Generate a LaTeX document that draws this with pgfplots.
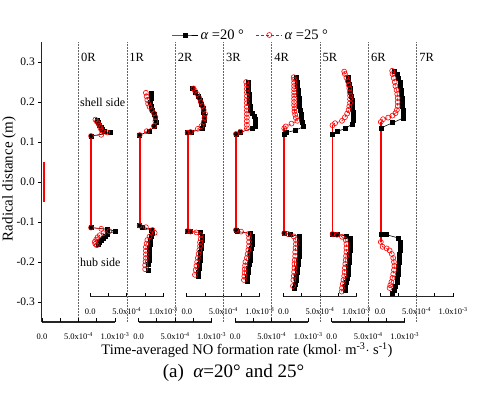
\documentclass[border=0pt]{standalone}
\usepackage{fontspec}
\setmainfont{Liberation Serif}
\usepackage{pgfplots}
\pgfplotsset{compat=1.18}
\usetikzlibrary{calc}
\pgfplotsset{
  prof/.style={scale only axis, width=73pt, xmin=0, xmax=10, ymax=0.35, clip=false,
    anchor=north west,
    axis x line*=bottom,
    xtick={0,2.5,5,7.5,10},
    xticklabels={0.0,,5.0x10\textsuperscript{-4},,1.0x10\textsuperscript{-3}},
    xtick align=inside, major tick length=4pt,
    tick style={black, line width=0.8pt},
    axis line style={line width=1pt, black!85},
    xticklabel style={font=\fontsize{8.5}{9}\selectfont, inner sep=1pt, text height=7pt, text depth=1pt, yshift=-9pt},
  },
  noy/.style={axis y line=none},
  low/.style={ymin=-0.35, height=280pt},
  up/.style={ymin=-0.2875, height=255pt},
  s20/.style={black, solid, mark=square*, mark size=2pt, line width=0.6pt},
  s25/.style={red, densely dashed, mark=o, mark size=2.5pt, mark options={solid}, line width=0.6pt},
  base/.style={red, solid, line width=1.8pt, forget plot},
}
\newcommand{\gridline}[1]{%
  \draw[gray!80!black, dash pattern=on 1.5pt off 1.5pt, line width=0.5pt] (axis cs:5,-0.35) -- (axis cs:5,0.35);
  \node[anchor=west, inner sep=0pt, xshift=2.5pt, font=\fontsize{12.5}{13}\selectfont] at (axis cs:5,0.3125) {#1};}
\newcommand{\lowline}[1]{%
  \draw[line width=1.2pt, black!85] (#1.south west) -- (#1.south east);
  \draw[black, line width=0.8pt] (#1.south west) -- ++(0pt,4pt);
  \draw[black, line width=0.8pt] ($(#1.south west)!0.25!(#1.south east)$) -- ++(0pt,4pt);
  \draw[black, line width=0.8pt] ($(#1.south west)!0.5!(#1.south east)$) -- ++(0pt,4pt);
  \draw[black, line width=0.8pt] ($(#1.south west)!0.75!(#1.south east)$) -- ++(0pt,4pt);
  \draw[black, line width=0.8pt] (#1.south east) -- ++(0pt,4pt);}
\begin{document}
\begin{tikzpicture}
\path[use as bounding box] (-42pt,42pt) rectangle (438pt,-356pt);
% axis 0: y axis, inlet profile
\begin{axis}[prof, low, at={(0pt,0pt)}, name=a0,
  axis y line*=left, ytick={-0.3,-0.2,-0.1,0,0.1,0.2,0.3},
  yticklabels={-0.3,-0.2,-0.1,0.0,0.1,0.2,0.3},
  ytick align=outside,
  yticklabel style={font=\fontsize{11.5}{12}\selectfont, inner sep=1pt, xshift=-2pt},
  legend style={at={(2.863,1.025)}, anchor=center, draw=none, fill=none,
    font=\fontsize{14.5}{15}\selectfont, legend columns=2,
    /tikz/every even column/.append style={column sep=10pt}},
  legend image code/.code={\draw[mark repeat=2,mark phase=2] plot coordinates {(0pt,0pt) (13pt,0pt) (26pt,0pt)};},
]
\addlegendimage{s20}\addlegendentry{{\itshape α} =20 °}
\addlegendimage{s25}\addlegendentry{{\itshape α} =25 °}
\addplot[base, line width=2.2pt] coordinates {(0.25,-0.05) (0.25,0.05)};
\gridline{0R}
\node[anchor=west, inner sep=0pt, font=\fontsize{12}{13}\selectfont] at (axis cs:5.2,0.2) {shell side};
\node[anchor=west, inner sep=0pt, font=\fontsize{12}{13}\selectfont] at (axis cs:5.2,-0.2) {hub side};
\end{axis}
% axis 1: 0R profile
\begin{axis}[prof, noy, up, at={(48.3pt,0pt)}]
\addplot[s20] coordinates {(1.1,-0.155)(1.3,-0.15)(1.5,-0.145)(1.8,-0.14)(2.0,-0.135)(2.3,-0.13)(3.4,-0.123)(2.3,-0.118)(0.1,-0.114)};
\addplot[s20] coordinates {(0.1,0.115)(2.8,0.123)(1.9,0.127)(1.7,0.132)(1.5,0.137)(1.3,0.142)(1.1,0.148)(0.9,0.153)};
\addplot[base] coordinates {(0.1,-0.114)(0.1,0.115)};
\addplot[s25] coordinates {(0.9,-0.158)(0.7,-0.155)(0.6,-0.150)(0.8,-0.144)(1.0,-0.138)(1.3,-0.133)(1.8,-0.128)(2.6,-0.123)(1.5,-0.117)(0.1,-0.114)};
\addplot[s25] coordinates {(0.1,0.115)(1.5,0.118)(2.3,0.124)(1.6,0.128)(1.4,0.134)(1.3,0.140)(1.1,0.146)(0.9,0.151)(0.7,0.156)};
\gridline{1R}
\end{axis}
% axis 2: 1R profile
\begin{axis}[prof, noy, low, at={(96.6pt,0pt)}, name=a2]
\addplot[s20] coordinates {(1.3,-0.222)(1.35,-0.205)(1.4,-0.195)(1.45,-0.185)(1.5,-0.175)(1.5,-0.165)(1.55,-0.155)(1.6,-0.146)(1.7,-0.137)(1.9,-0.128)(1.8,-0.12)(0.5,-0.113)(0.15,-0.109)};
\addplot[s20] coordinates {(0.15,0.1175)(1.5,0.127)(2.2,0.14)(2.4,0.15)(2.3,0.16)(2.1,0.17)(1.9,0.18)(1.7,0.19)(1.6,0.2)(1.7,0.21)(1.8,0.222)};
\addplot[base] coordinates {(0.15,-0.109)(0.15,0.1175)};
\addplot[s25] coordinates {(0.9,-0.218)(0.9,-0.208)(0.95,-0.199)(1.0,-0.19)(1.0,-0.181)(1.0,-0.172)(1.0,-0.163)(1.1,-0.154)(1.2,-0.145)(1.5,-0.136)(2.2,-0.127)(1.9,-0.12)(1.0,-0.113)(0.15,-0.109)};
\addplot[s25] coordinates {(0.15,0.1175)(1.1,0.127)(2.1,0.14)(2.3,0.152)(2.3,0.162)(2.1,0.172)(1.8,0.18)(1.5,0.188)(1.3,0.196)(1.2,0.205)(1.1,0.214)(1.0,0.223)};
\gridline{2R}
\end{axis}
% axis 3: 2R profile
\begin{axis}[prof, noy, up, at={(144.9pt,0pt)}]
\addplot[s20] coordinates {(1.5,-0.235)(1.6,-0.225)(1.65,-0.215)(1.7,-0.205)(1.8,-0.195)(1.85,-0.185)(1.9,-0.175)(2.0,-0.165)(2.0,-0.155)(2.1,-0.145)(2.1,-0.135)(1.9,-0.126)(0.5,-0.124)(0.1,-0.1225)};
\addplot[s20] coordinates {(0.1,0.123)(0.6,0.125)(2.1,0.133)(2.3,0.145)(2.4,0.155)(2.4,0.165)(2.3,0.175)(2.2,0.185)(2.0,0.195)(1.8,0.205)(1.5,0.215)(1.2,0.225)(0.7,0.235)};
\addplot[base] coordinates {(0.1,-0.1225)(0.1,0.123)};
\addplot[s25] coordinates {(1.1,-0.232)(1.2,-0.22)(1.3,-0.21)(1.4,-0.2)(1.5,-0.19)(1.6,-0.18)(1.7,-0.17)(1.8,-0.16)(1.8,-0.151)(1.9,-0.142)(1.9,-0.133)(1.3,-0.126)(0.5,-0.124)(0.1,-0.1225)};
\addplot[s25] coordinates {(0.1,0.123)(0.5,0.125)(1.5,0.133)(2.0,0.14)(2.3,0.15)(2.4,0.16)(2.5,0.17)(2.3,0.18)(2.1,0.19)(1.9,0.2)(1.7,0.21)(1.4,0.22)(1.1,0.228)(0.9,0.234)};
\gridline{3R}
\end{axis}
% axis 4: 3R profile
\begin{axis}[prof, noy, low, at={(193.2pt,0pt)}, name=a4]
\addplot[s20] coordinates {(1.6,-0.248)(1.7,-0.235)(1.8,-0.225)(1.8,-0.215)(1.9,-0.205)(2.0,-0.195)(2.0,-0.185)(2.1,-0.175)(2.2,-0.165)(2.3,-0.155)(2.3,-0.145)(2.4,-0.135)(2.0,-0.128)(0.3,-0.124)(0.1,-0.12)};
\addplot[s20] coordinates {(0.1,0.12)(0.7,0.124)(2.3,0.134)(2.7,0.14)(2.8,0.148)(2.7,0.156)(2.6,0.164)(2.3,0.172)(2.1,0.18)(2.0,0.19)(1.9,0.2)(1.9,0.21)(1.9,0.22)(1.85,0.23)(1.8,0.24)(1.8,0.248)};
\addplot[base] coordinates {(0.1,-0.12)(0.1,0.12)};
\addplot[s25] coordinates {(1.2,-0.245)(1.25,-0.236)(1.3,-0.227)(1.3,-0.218)(1.35,-0.209)(1.4,-0.2)(1.6,-0.19)(1.7,-0.18)(1.8,-0.17)(1.9,-0.16)(1.9,-0.15)(1.9,-0.14)(1.8,-0.13)(0.8,-0.124)(0.1,-0.12)};
\addplot[s25] coordinates {(0.1,0.12)(0.7,0.126)(1.6,0.134)(1.6,0.143)(1.6,0.152)(1.6,0.161)(1.6,0.17)(1.6,0.179)(1.6,0.188)(1.6,0.197)(1.6,0.206)(1.6,0.215)(1.6,0.224)(1.6,0.233)(1.6,0.242)(1.5,0.25)};
\gridline{4R}
\end{axis}
% axis 5: 4R profile
\begin{axis}[prof, noy, up, at={(241.5pt,0pt)}]
\addplot[s20] coordinates {(1.5,-0.266)(1.6,-0.256)(1.7,-0.246)(1.8,-0.236)(1.9,-0.226)(1.95,-0.216)(2.0,-0.206)(2.05,-0.196)(2.1,-0.186)(2.1,-0.176)(2.15,-0.166)(2.2,-0.156)(2.2,-0.146)(2.1,-0.136)(0.9,-0.131)(0.1,-0.128)};
\addplot[s20] coordinates {(0.1,0.12)(0.45,0.124)(1.6,0.129)(2.7,0.138)(2.6,0.148)(2.5,0.158)(2.4,0.168)(2.3,0.178)(2.2,0.188)(2.1,0.198)(2.1,0.208)(2.0,0.218)(2.0,0.228)(1.9,0.238)(1.9,0.248)(1.8,0.262)};
\addplot[base] coordinates {(0.1,-0.128)(0.1,0.134)};
\addplot[s25] coordinates {(1.3,-0.26)(1.35,-0.245)(1.4,-0.235)(1.45,-0.225)(1.5,-0.215)(1.5,-0.205)(1.55,-0.195)(1.6,-0.185)(1.6,-0.175)(1.65,-0.165)(1.7,-0.155)(1.7,-0.145)(1.4,-0.136)(0.6,-0.13)(0.1,-0.128)};
\addplot[s25] coordinates {(0.1,0.134)(0.3,0.139)(1.1,0.146)(1.9,0.153)(1.7,0.16)(1.6,0.168)(1.5,0.176)(1.5,0.184)(1.45,0.192)(1.45,0.2)(1.45,0.208)(1.45,0.216)(1.45,0.224)(1.45,0.232)(1.45,0.24)(1.45,0.248)(1.45,0.256)(1.4,0.262)};
\gridline{5R}
\end{axis}
% axis 6: 5R profile
\begin{axis}[prof, noy, low, at={(289.8pt,0pt)}, name=a6]
\addplot[s20] coordinates {(1.8,-0.27)(1.9,-0.26)(2.0,-0.25)(2.1,-0.24)(2.2,-0.23)(2.3,-0.22)(2.3,-0.21)(2.35,-0.2)(2.4,-0.19)(2.45,-0.18)(2.5,-0.17)(2.5,-0.16)(2.5,-0.15)(2.5,-0.14)(2.0,-0.135)(0.7,-0.131)(0.1,-0.13)};
\addplot[s20] coordinates {(0.1,0.12)(0.8,0.127)(1.9,0.134)(2.8,0.145)(2.9,0.155)(2.9,0.165)(2.9,0.175)(2.85,0.185)(2.8,0.195)(2.75,0.205)(2.7,0.215)(2.6,0.225)(2.5,0.235)(2.4,0.245)(2.3,0.255)(2.2,0.262)};
\addplot[base] coordinates {(0.1,-0.13)(0.1,0.142)};
\addplot[s25] coordinates {(1.35,-0.274)(1.4,-0.265)(1.5,-0.255)(1.6,-0.245)(1.7,-0.235)(1.75,-0.225)(1.8,-0.215)(1.85,-0.205)(1.9,-0.195)(1.95,-0.185)(2.0,-0.175)(2.0,-0.165)(2.0,-0.155)(1.9,-0.145)(1.4,-0.137)(0.7,-0.132)(0.1,-0.13)};
\addplot[s25] coordinates {(0.1,0.142)(0.45,0.147)(1.4,0.153)(1.8,0.162)(2.1,0.171)(2.3,0.18)(2.4,0.189)(2.5,0.198)(2.5,0.207)(2.5,0.216)(2.45,0.225)(2.4,0.234)(2.3,0.243)(2.2,0.252)(2.0,0.261)(1.8,0.27)(1.7,0.276)};
\gridline{6R}
\end{axis}
% axis 7: 6R profile
\begin{axis}[prof, noy, up, at={(338.1pt,0pt)}]
\addplot[s20] coordinates {(1.7,-0.278)(1.9,-0.27)(2.1,-0.26)(2.3,-0.25)(2.4,-0.24)(2.45,-0.23)(2.5,-0.22)(2.55,-0.21)(2.6,-0.2)(2.6,-0.19)(2.65,-0.18)(2.7,-0.17)(2.7,-0.16)(2.7,-0.15)(2.5,-0.14)(0.9,-0.132)(0.1,-0.13)};
\addplot[s20] coordinates {(0.1,0.135)(1.7,0.148)(3.2,0.16)(3.2,0.17)(3.15,0.18)(3.1,0.19)(3.05,0.2)(3.0,0.21)(2.95,0.22)(2.9,0.23)(2.8,0.24)(2.7,0.25)(2.5,0.26)(2.3,0.27)(2.0,0.276)};
\addplot[base] coordinates {(0.1,-0.15)(0.1,0.15)};
\addplot[s25] coordinates {(1.3,-0.265)(1.4,-0.258)(1.55,-0.25)(1.7,-0.24)(1.8,-0.23)(1.9,-0.22)(1.95,-0.21)(1.9,-0.2)(1.8,-0.19)(1.6,-0.18)(1.3,-0.171)(0.9,-0.166)(0.35,-0.162)(0.1,-0.15)};
\addplot[s25] coordinates {(0.1,0.15)(0.4,0.157)(1.1,0.161)(1.7,0.166)(2.1,0.172)(2.3,0.18)(2.4,0.19)(2.4,0.2)(2.4,0.21)(2.35,0.22)(2.25,0.23)(2.1,0.24)(2.0,0.25)(1.85,0.26)(1.7,0.27)(1.65,0.278)};
\gridline{7R}
\end{axis}
\lowline{a0}
\lowline{a2}
\lowline{a4}
\lowline{a6}
\node[rotate=90, font=\fontsize{15}{16}\selectfont] at (-33pt,-137pt) {Radical distance (m)};
\node[font=\fontsize{14.5}{15}\selectfont] at (205pt,-308pt) {Time-averaged NO formation rate (kmol$\cdot$ m\textsuperscript{-3}$\cdot$ s\textsuperscript{-1})};
\node[font=\fontsize{19}{20}\selectfont] at (191.5pt,-331pt) {(a)\ \ {\itshape α}=20° and 25°};
\end{tikzpicture}
\end{document}
